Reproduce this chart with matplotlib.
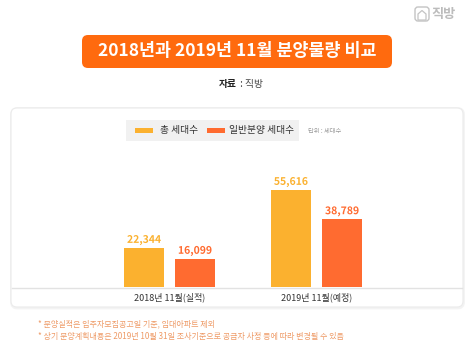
import matplotlib
matplotlib.use("Agg")
import matplotlib.pyplot as plt
from matplotlib.patches import FancyBboxPatch, Rectangle, Polygon
import matplotlib.patheffects as pe
import numpy as np

plt.rcParams['font.family'] = ['Noto Sans CJK KR', 'DejaVu Sans']

categories = ["2018년 11월(실적)", "2019년 11월(예정)"]
series_names = ["총 세대수", "일반분양 세대수"]
total_units = [22344, 55616]
general_units = [16099, 38789]
colors = ["#FBB12F", "#FF6B30"]
title = "2018년과 2019년 11월 분양물량 비교"
notes = ["* 분양실적은 입주자모집공고일 기준, 임대아파트 제외",
         "* 상기 분양계획내용은 2019년 10월 31일 조사기준으로 공급자 사정 등에 따라 변경될 수 있음"]

W, H = 474, 353
fig = plt.figure(figsize=(W / 100, H / 100), dpi=100)
fig.patch.set_facecolor("white")

def fx(x):
    return x / W

def fy(y):
    return 1 - y / H

# background overlay axes in pixel coordinates
bg = fig.add_axes([0, 0, 1, 1])
bg.set_xlim(0, W)
bg.set_ylim(H, 0)
bg.axis("off")

# card (soft shadow + faint border)
bg.add_patch(FancyBboxPatch((11.5, 108.5), 452, 199.5, boxstyle="round,pad=0,rounding_size=6",
                            facecolor="none", edgecolor="#f3f3f3", lw=2.0))
bg.add_patch(FancyBboxPatch((11, 108), 452, 199, boxstyle="round,pad=0,rounding_size=6",
                            facecolor="white", edgecolor="#ebebeb", lw=0.8))
# title box
bg.add_patch(FancyBboxPatch((82, 35), 310, 33, boxstyle="round,pad=0,rounding_size=6",
                            facecolor="#FF6A0E", edgecolor="none"))
bg.text(237, 51.5, title, color="white", fontsize=12.5, fontweight="bold",
        ha="center", va="center")
# source
bg.text(237, 84, "자료", fontsize=7, fontweight="bold", ha="right", va="center", color="#222222")
bg.text(238, 84, " : 직방", fontsize=7, ha="left", va="center", color="#444444")

# logo
bg.add_patch(FancyBboxPatch((415, 7), 14, 14, boxstyle="round,pad=0,rounding_size=3",
                            facecolor="none", edgecolor="#c4c4c4", lw=1.0))
bg.add_patch(Polygon([[418, 20], [418, 14], [422, 10.5], [426, 14], [426, 20]], closed=True,
                     facecolor="none", edgecolor="#c4c4c4", lw=0.9))
bg.text(431, 14, "직방", fontsize=9.5, fontweight="bold", color="#bcbcbc", ha="left", va="center")

# legend
bg.add_patch(Rectangle((126, 120), 173, 21, facecolor="#f1f1f1", edgecolor="none"))
bg.add_patch(Rectangle((135, 128), 18, 5, facecolor=colors[0], edgecolor="none"))
bg.text(160, 130.5, series_names[0], fontsize=7, ha="left", va="center", color="#333333")
bg.add_patch(Rectangle((207, 128), 18, 5, facecolor=colors[1], edgecolor="none"))
bg.text(229, 130.5, series_names[1], fontsize=7, ha="left", va="center", color="#333333")
bg.text(308, 130.5, "단위 : 세대수", fontsize=4.5, ha="left", va="center", color="#999999")

# baseline
bg.plot([12, 462], [287.5, 287.5], color="#e2e2e2", lw=1.0)

# footnotes
for i, t in enumerate(notes):
    bg.text(38, 324 + i * 13, t, fontsize=5.8, fontweight="medium", ha="left", va="center",
            color="#EE9A66")

# chart axes
ax_left, ax_right, ax_bottom, ax_top = 12, 463, 287, 150
ax = fig.add_axes([fx(ax_left), fy(ax_bottom), fx(ax_right - ax_left), (ax_bottom - ax_top) / H])
ax.patch.set_alpha(0)
x = np.arange(len(categories))
unit = 147.0
bw = 40 / unit
off = 25.5 / unit
ax.bar(x - off, total_units, width=bw, color=colors[0])
ax.bar(x + off, general_units, width=bw, color=colors[1])
ppu = 97 / 55616
ymax = (ax_bottom - ax_top) / ppu
ax.set_ylim(0, ymax)
ax.set_xlim(0 - (169.5 - ax_left) / unit, 1 + (ax_right - 316.5) / unit)
for xi, v in zip(x - off, total_units):
    ax.text(xi, v + 8 / ppu, f"{v:,}", ha="center", va="center", fontsize=7.5, fontweight="bold",
            color=colors[0], path_effects=[pe.withStroke(linewidth=2.2, foreground="white")])
for xi, v in zip(x + off, general_units):
    ax.text(xi, v + 8 / ppu, f"{v:,}", ha="center", va="center", fontsize=7.5, fontweight="bold",
            color=colors[1], path_effects=[pe.withStroke(linewidth=2.2, foreground="white")])
ax.set_xticks(x)
ax.set_xticklabels(categories, fontsize=6.5, color="#333333")
ax.tick_params(axis="x", length=0, pad=4)
ax.set_yticks([])
for s in ax.spines.values():
    s.set_visible(False)

fig.savefig("out.png", dpi=100, facecolor="white")
